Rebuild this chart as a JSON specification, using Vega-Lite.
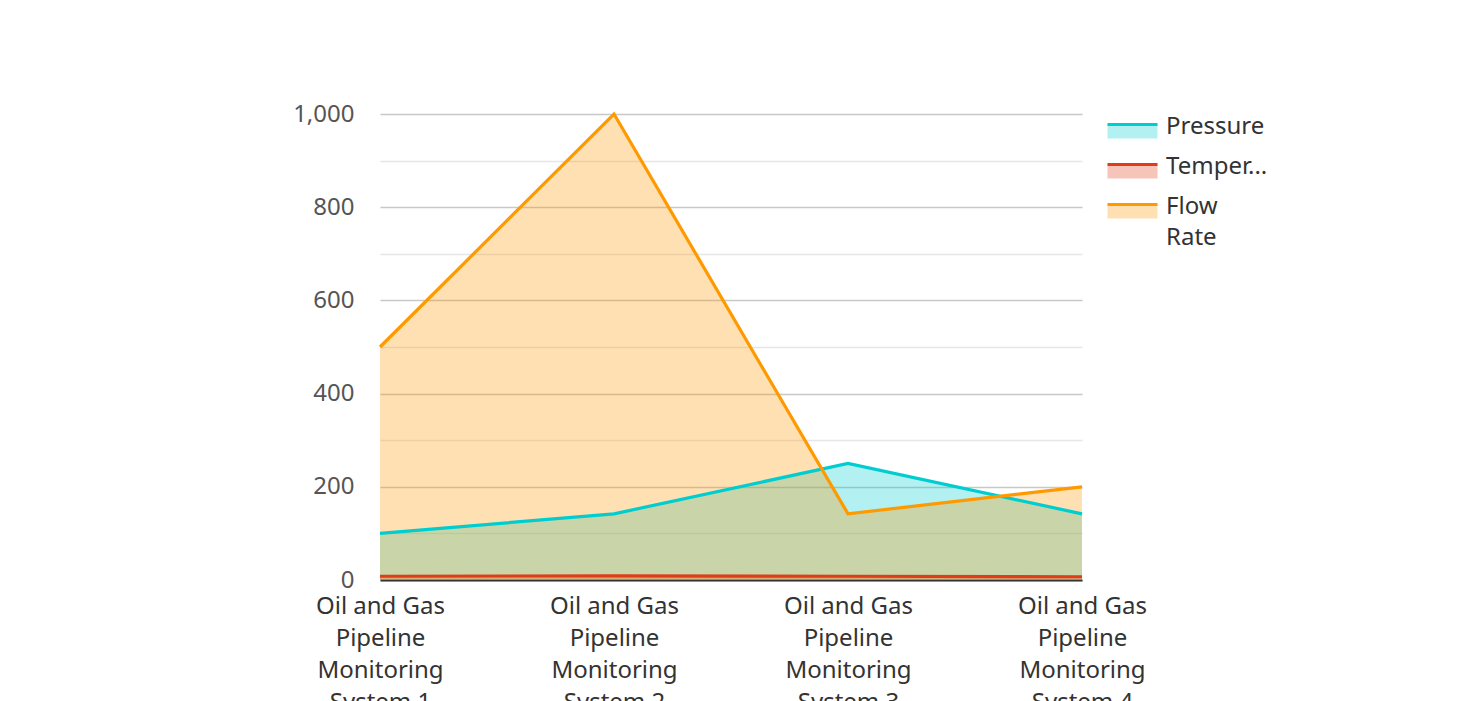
{
  "$schema": "https://vega.github.io/schema/vega-lite/v6.json",
  "width": 702,
  "height": 466,
  "autosize": "none",
  "padding": {"left": 380, "top": 114, "right": 376, "bottom": 121},
  "background": "white",
  "config": {
    "view": {"stroke": null},
    "font": "Noto Sans"
  },
  "data": {
    "values": [
      {"system": "Oil and Gas Pipeline Monitoring System 1", "metric": "Pressure", "value": 100},
      {"system": "Oil and Gas Pipeline Monitoring System 2", "metric": "Pressure", "value": 142},
      {"system": "Oil and Gas Pipeline Monitoring System 3", "metric": "Pressure", "value": 250},
      {"system": "Oil and Gas Pipeline Monitoring System 4", "metric": "Pressure", "value": 142},
      {"system": "Oil and Gas Pipeline Monitoring System 1", "metric": "Temperature", "value": 8},
      {"system": "Oil and Gas Pipeline Monitoring System 2", "metric": "Temperature", "value": 9},
      {"system": "Oil and Gas Pipeline Monitoring System 3", "metric": "Temperature", "value": 8},
      {"system": "Oil and Gas Pipeline Monitoring System 4", "metric": "Temperature", "value": 7},
      {"system": "Oil and Gas Pipeline Monitoring System 1", "metric": "Flow Rate", "value": 500},
      {"system": "Oil and Gas Pipeline Monitoring System 2", "metric": "Flow Rate", "value": 1000},
      {"system": "Oil and Gas Pipeline Monitoring System 3", "metric": "Flow Rate", "value": 142},
      {"system": "Oil and Gas Pipeline Monitoring System 4", "metric": "Flow Rate", "value": 200}
    ]
  },
  "encoding": {
    "x": {
      "field": "system",
      "type": "nominal",
      "sort": null,
      "scale": {"type": "point", "padding": 0},
      "axis": {
        "title": null,
        "labelAngle": 0,
        "labelFontSize": 24,
        "labelColor": "#333333",
        "labelLineHeight": 32,
        "labelPadding": 14,
        "labelBaseline": "top",
        "labelLimit": 400,
        "ticks": false,
        "domainColor": "#333333",
        "domainWidth": 2,
        "grid": false,
        "labelExpr": "['Oil and Gas', 'Pipeline', 'Monitoring', replace(datum.label, 'Oil and Gas Pipeline Monitoring ', '')]"
      }
    },
    "y": {
      "field": "value",
      "type": "quantitative",
      "stack": null,
      "scale": {"domain": [0, 1000], "nice": false},
      "axis": {
        "title": null,
        "values": [0, 100, 200, 300, 400, 500, 600, 700, 800, 900, 1000],
        "labelExpr": "datum.value % 200 === 0 ? format(datum.value, ',') : ''",
        "labelFontSize": 24,
        "labelColor": "#555555",
        "labelPadding": 26,
        "ticks": false,
        "domain": false,
        "gridColor": {"condition": {"test": "datum.value % 200 === 0", "value": "#c8c8c8"}, "value": "#e6e6e6"},
        "gridWidth": 1.5
      }
    },
    "color": {
      "field": "metric",
      "type": "nominal",
      "sort": ["Pressure", "Temperature", "Flow Rate"],
      "scale": {
        "domain": ["Pressure", "Temperature", "Flow Rate"],
        "range": ["#00cdd0", "#e03c18", "#ff9900"]
      },
      "legend": {
        "title": null,
        "orient": "none",
        "legendX": 731,
        "legendY": -6,
        "symbolType": "M-1.25,-0.25L1.25,-0.25L1.25,0.45L-1.25,0.45Z",
        "symbolSize": 1600,
        "symbolStrokeWidth": 3,
        "symbolDash": [50, 2000],
        "symbolFillOpacity": 0.3,
        "symbolOpacity": 1,
        "labelFontSize": 24,
        "labelColor": "#333333",
        "labelOffset": 12,
        "labelLimit": 300,
        "labelLineHeight": 31,
        "labelBaseline": "top",
        "rowPadding": 3,
        "labelExpr": "datum.label == 'Temperature' ? 'Temper...' : (datum.label == 'Flow Rate' ? ['Flow', 'Rate'] : datum.label)",
        "encode": {
          "symbols": {
            "update": {
              "fill": {"scale": "color", "field": "value"},
              "stroke": {"scale": "color", "field": "value"},
              "fillOpacity": {"value": 0.3},
              "strokeDash": {"value": [50, 2000]}
            }
          },
          "labels": {"update": {"dy": {"value": -15}, "lineHeight": {"value": 31}}}
        }
      }
    }
  },
  "layer": [
    {"mark": {"type": "area", "fillOpacity": 0.3, "line": false}},
    {"mark": {"type": "line", "strokeWidth": 3.2}}
  ]
}
